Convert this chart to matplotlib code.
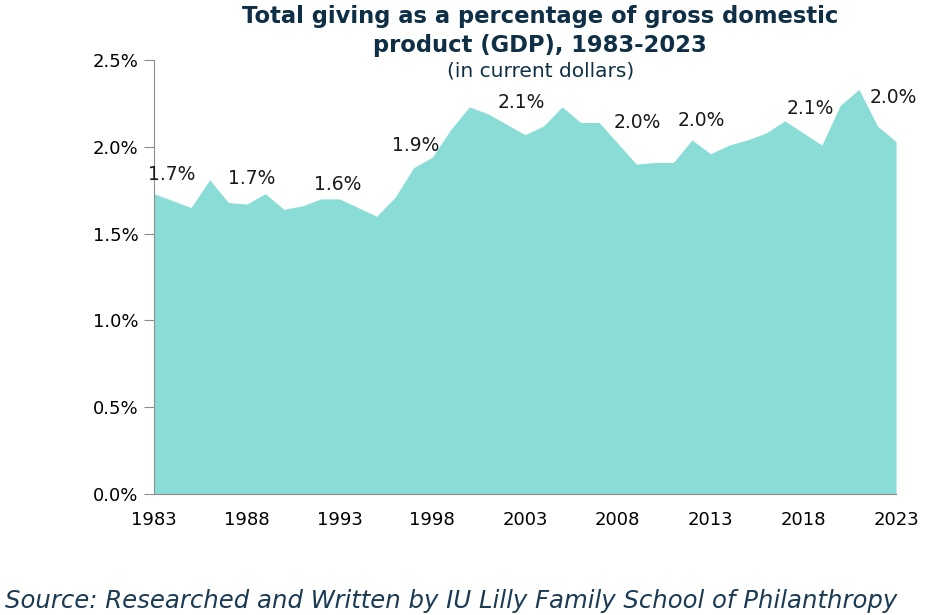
import matplotlib.pyplot as plt
from matplotlib.ticker import FuncFormatter

years = list(range(1983, 2024))
giving_pct = [
    1.73, 1.69, 1.65, 1.81, 1.68, 1.67, 1.73, 1.64, 1.66, 1.70,
    1.70, 1.65, 1.60, 1.71, 1.88, 1.94, 2.10, 2.23, 2.19, 2.13,
    2.07, 2.12, 2.23, 2.14, 2.14, 2.02, 1.90, 1.91, 1.91, 2.04,
    1.96, 2.01, 2.04, 2.08, 2.15, 2.08, 2.01, 2.24, 2.33, 2.12,
    2.03,
]
label_years = [1983, 1988, 1993, 1998, 2003, 2008, 2013, 2018, 2023]
label_texts = ["1.7%", "1.7%", "1.6%", "1.9%", "2.1%", "2.0%", "2.0%", "2.1%", "2.0%"]
# pixel offsets of each label centre from its point
label_offsets = [(18, 19), (5, 26), (-2, 14), (-17, 12), (-4, 32),
                 (20, 21), (-9, 33), (7, 24), (-3, 44)]
x_ticks = list(range(1983, 2024, 5))
y_ticks = [0.0, 0.5, 1.0, 1.5, 2.0, 2.5]

navy = "#0e2f45"
fill_color = "#8addd6"

plt.rcParams["font.family"] = "DejaVu Sans"

fig = plt.figure(figsize=(9.27, 6.15), dpi=100)
ax = fig.add_axes([0.1661, 0.1967, 0.8005, 0.7057])

ax.fill_between(years, giving_pct, 0, color=fill_color, linewidth=0)
ax.set_xlim(1983, 2023)
ax.set_ylim(0, 2.5)
ax.set_xticks(x_ticks)
ax.set_yticks(y_ticks)
ax.yaxis.set_major_formatter(FuncFormatter(lambda v, p: f"{v:.1f}%"))

for s in ["top", "right"]:
    ax.spines[s].set_visible(False)
ax.spines["left"].set_color("#8c8c8c")
ax.spines["bottom"].set_color("#8c8c8c")
ax.tick_params(axis="y", length=7, color="#8c8c8c", labelsize=13, pad=4)
ax.tick_params(axis="x", length=0, labelsize=13, pad=12)

for yr, txt, (dx, dy) in zip(label_years, label_texts, label_offsets):
    val = giving_pct[years.index(yr)]
    ax.annotate(txt, (yr, val), xytext=(dx, dy), textcoords="offset pixels",
                ha="center", va="center", fontsize=13.5, color="#1a1a1a",
                annotation_clip=False)

fig.text(0.5825, 0.9724, "Total giving as a percentage of gross domestic",
         ha="center", va="center", fontsize=16.3, fontweight="bold", color=navy)
fig.text(0.5825, 0.9268, "product (GDP), 1983-2023",
         ha="center", va="center", fontsize=16.3, fontweight="bold", color=navy)
fig.text(0.583, 0.8846, "(in current dollars)", ha="center", va="center",
         fontsize=14.5, color=navy)
fig.text(0.005, 0.023, "Source: Researched and Written by IU Lilly Family School of Philanthropy",
         ha="left", va="center", fontsize=17.6, style="italic", color="#1b3a54")

fig.savefig("out.png", dpi=100)
